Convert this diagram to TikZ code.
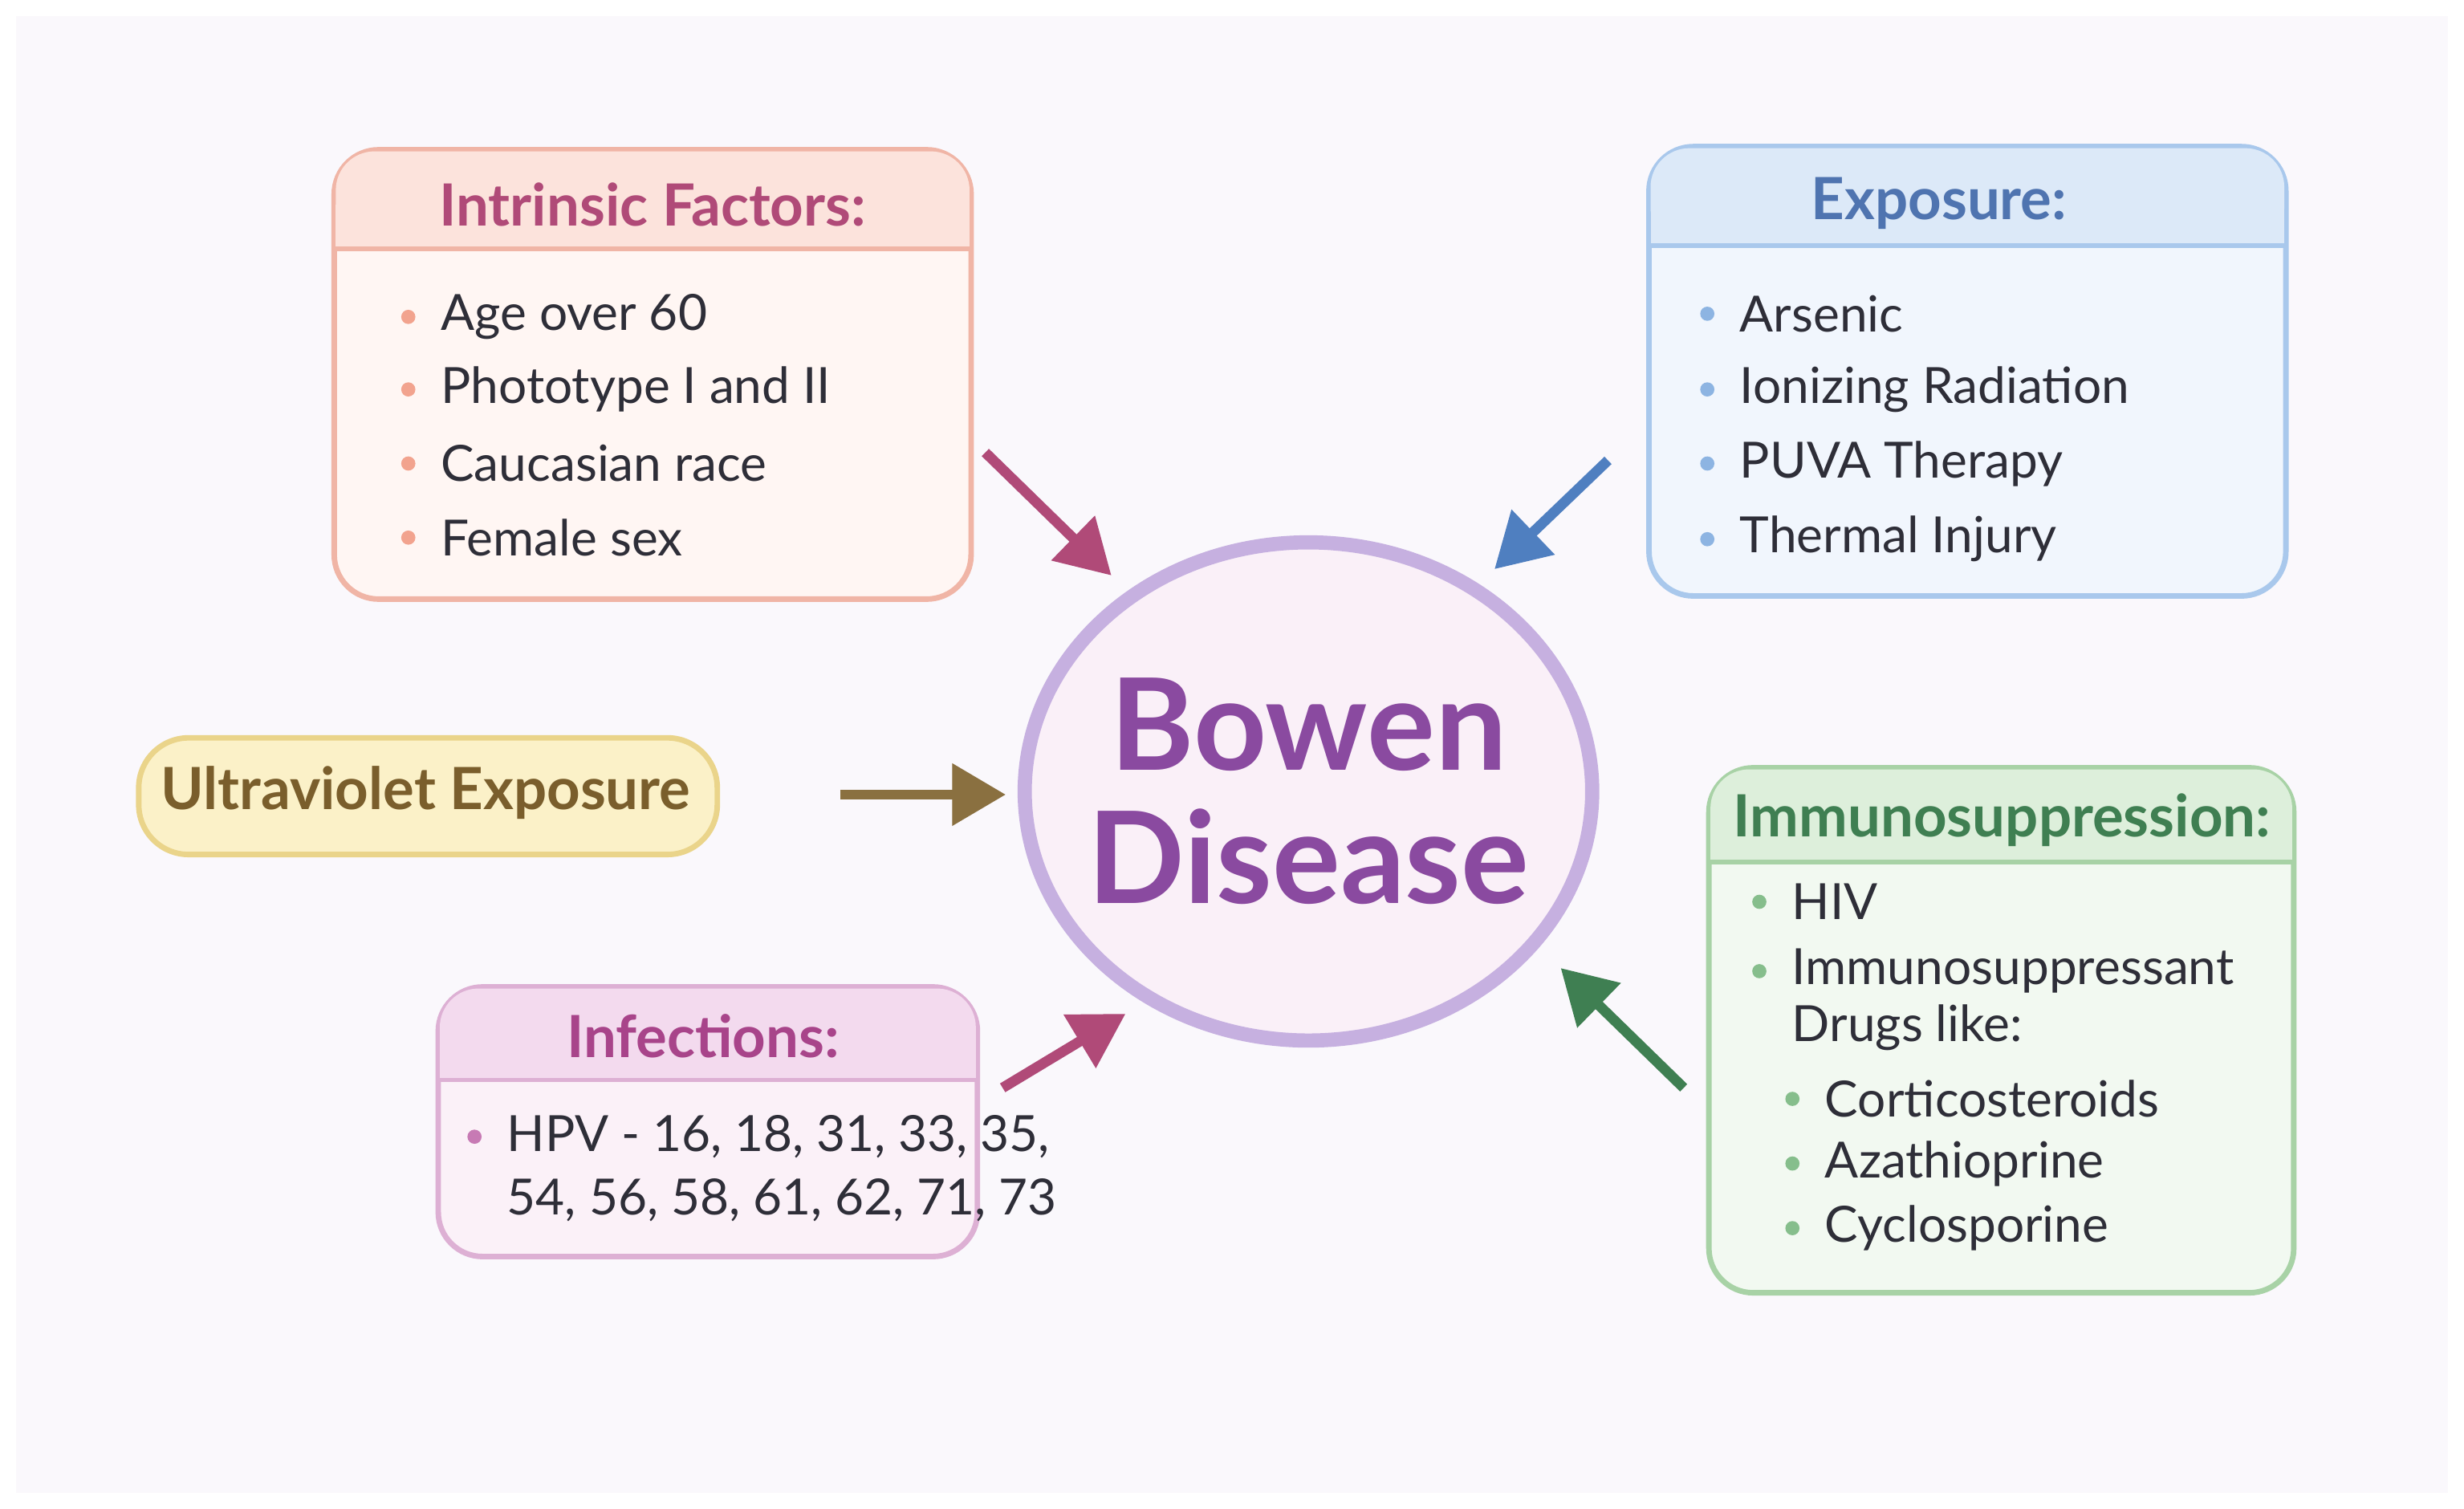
\documentclass[tikz,border=0pt]{standalone}
\usepackage{fontspec}
\setmainfont{Lato}
\usetikzlibrary{arrows.meta}
\definecolor{bgc}{HTML}{FAF8FC}
\definecolor{pkH}{HTML}{FCE3DC}\definecolor{pkB}{HTML}{FFF6F3}\definecolor{pkD}{HTML}{F0B5A6}\definecolor{pkT}{HTML}{B04A78}\definecolor{pkU}{HTML}{F2A38E}
\definecolor{blH}{HTML}{DCE9F8}\definecolor{blB}{HTML}{F1F6FD}\definecolor{blD}{HTML}{A9C8EC}\definecolor{blT}{HTML}{4F74B0}\definecolor{blU}{HTML}{8DB4E2}
\definecolor{ylB}{HTML}{FBF1C8}\definecolor{ylD}{HTML}{EAD48A}\definecolor{ylT}{HTML}{7A5E2C}
\definecolor{ppH}{HTML}{F3DAEE}\definecolor{ppB}{HTML}{FBF1F8}\definecolor{ppD}{HTML}{DDB0D4}\definecolor{ppT}{HTML}{A8448A}\definecolor{ppU}{HTML}{C77AB4}
\definecolor{grH}{HTML}{DDEFDB}\definecolor{grB}{HTML}{F2F9F1}\definecolor{grD}{HTML}{A8D2A6}\definecolor{grT}{HTML}{3F7F52}\definecolor{grU}{HTML}{86BE8C}
\definecolor{elB}{HTML}{FAF0F8}\definecolor{elD}{HTML}{C6B0E0}\definecolor{elT}{HTML}{8A4AA0}
\definecolor{txt}{HTML}{2E2E38}
\definecolor{arP}{HTML}{B04A78}\definecolor{arB}{HTML}{4F7FC0}\definecolor{arY}{HTML}{8A7040}\definecolor{arG}{HTML}{3F7F52}
\tikzset{
 item/.style={anchor=west,inner sep=0pt,text=txt,font=\fontsize{9}{11}\selectfont},
 ttl/.style={inner sep=0pt,font=\fontsize{10.5}{12}\selectfont\bfseries},
 conn/.style={line width=0.65mm,-{Triangle[length=3.4mm,width=3.8mm]}},
}
\newcommand{\bul}[4]{\fill[#1] (#2-20,#3) circle (4.5);\node[item] (#4) at (#2,#3)}
\begin{document}
\begin{tikzpicture}[x=0.01cm,y=-0.01cm]
\useasboundingbox (0,0) rectangle (1563,957);
\fill[white] (0,0) rectangle (1563,957);
\fill[bgc] (10,10) rectangle (1553,947);
% Intrinsic
\draw[pkD,fill=pkB,line width=0.35mm,rounded corners=8] (212,95) rectangle (616,380);
\fill[pkH,rounded corners=7] (213,96) rectangle (615,158);
\fill[pkH] (213,130) rectangle (615,158);
\draw[pkD,line width=0.3mm] (213,158) -- (615,158);
\node[ttl,text=pkT] (t1) at (414,130) {Intrinsic Factors:};
\bul{pkU}{279}{201}{a1}{Age over 60};
\bul{pkU}{279}{247}{a2}{Phototype I and II};
\bul{pkU}{279}{294}{a3}{Caucasian race};
\bul{pkU}{279}{341}{a4}{Female sex};
% Exposure
\draw[blD,fill=blB,line width=0.35mm,rounded corners=8] (1046,93) rectangle (1450,378);
\fill[blH,rounded corners=7] (1047,94) rectangle (1449,156);
\fill[blH] (1047,128) rectangle (1449,156);
\draw[blD,line width=0.3mm] (1047,156) -- (1449,156);
\node[ttl,text=blT] (t2) at (1230,129) {Exposure:};
\bul{blU}{1103}{199}{b1}{Arsenic};
\bul{blU}{1103}{247}{b2}{Ionizing Radiation};
\bul{blU}{1103}{294}{b3}{PUVA Therapy};
\bul{blU}{1103}{342}{b4}{Thermal Injury};
% Ultraviolet
\draw[ylD,fill=ylB,line width=0.35mm,rounded corners=9] (88,468) rectangle (455,542);
\node[ttl,text=ylT] (uv) at (270,503) {Ultraviolet Exposure};
% Infections
\draw[ppD,fill=ppB,line width=0.35mm,rounded corners=8] (278,626) rectangle (620,797);
\fill[ppH,rounded corners=7] (279,627) rectangle (619,685);
\fill[ppH] (279,660) rectangle (619,685);
\draw[ppD,line width=0.3mm] (279,685) -- (619,685);
\node[ttl,text=ppT] (t3) at (446,657) {Infections:};
\bul{ppU}{321}{721}{c1}{HPV - 16, 18, 31, 33, 35,};
\node[item] (c2) at (321,761) {54, 56, 58, 61, 62, 71, 73};
% Immuno
\draw[grD,fill=grB,line width=0.35mm,rounded corners=8] (1084,487) rectangle (1455,820);
\fill[grH,rounded corners=7] (1085,488) rectangle (1454,547);
\fill[grH] (1085,520) rectangle (1454,547);
\draw[grD,line width=0.3mm] (1085,547) -- (1454,547);
\node[ttl,text=grT] (t4) at (1270,520) {Immunosuppression:};
\bul{grU}{1136}{572}{d1}{HIV};
\bul{grU}{1136}{616}{d2}{Immunosuppressant};
\node[item] (d3) at (1136,652) {Drugs like:};
\bul{grU}{1157}{697}{d4}{Corticosteroids};
\bul{grU}{1157}{738}{d5}{Azathioprine};
\bul{grU}{1157}{779}{d6}{Cyclosporine};
% Ellipse
\draw[elD,fill=elB,line width=0.9mm] (830,502) ellipse [x radius=180,y radius=158];
\node[inner sep=0pt,text=elT,font=\fontsize{23}{24}\selectfont\bfseries,align=center] (bd) at (830,502) {Bowen\\Disease};
% arrows
\coordinate (p1) at (625,287); \coordinate (q1) at (705,365);
\coordinate (p2) at (1020,292); \coordinate (q2) at (948,361);
\coordinate (p3) at (533,504); \coordinate (q3) at (638,504);
\coordinate (p4) at (636,690); \coordinate (q4) at (714,643);
\coordinate (p5) at (1068,690); \coordinate (q5) at (990,614);
\draw[conn,arP] (p1) -- (q1);
\draw[conn,arB] (p2) -- (q2);
\draw[conn,arY] (p3) -- (q3);
\draw[conn,arP] (p4) -- (q4);
\draw[conn,arG] (p5) -- (q5);
\end{tikzpicture}
\end{document}
